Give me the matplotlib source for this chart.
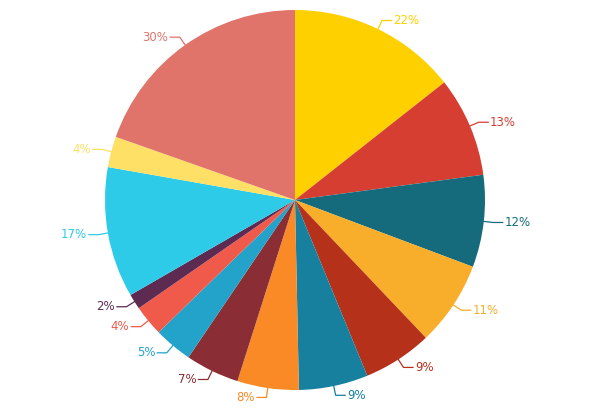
import matplotlib
matplotlib.use("Agg")
import matplotlib.pyplot as plt
import numpy as np

values = [22, 13, 12, 11, 9, 9, 8, 7, 5, 4, 2, 17, 4, 30]
labels = ["22%", "13%", "12%", "11%", "9%", "9%", "8%", "7%", "5%", "4%", "2%", "17%", "4%", "30%"]
colors = ["#FFD000", "#D63E31", "#156B7C", "#F9AE2B", "#B5311A", "#16809E", "#F98A25",
          "#8A2D34", "#23A3C9", "#F05A4A", "#5D2A52", "#2ECBE8", "#FFE066", "#E0746B"]

fig = plt.figure(figsize=(6.16, 4.11), dpi=100)
W, H = 616, 411
cx, cy, r = 295, 200, 190
ax = fig.add_axes([(cx - r) / W, (H - cy - r) / H, 2 * r / W, 2 * r / H])
wedges, _ = ax.pie(values, colors=colors, startangle=90, counterclock=False,
                   wedgeprops=dict(linewidth=0))
ax.set_xlim(-1, 1); ax.set_ylim(-1, 1)
ax.set_aspect("equal")

for w, lab, c in zip(wedges, labels, colors):
    ang = np.deg2rad((w.theta1 + w.theta2) / 2)
    x, y = np.cos(ang), np.sin(ang)
    x1, y1 = 1.0 * x, 1.0 * y
    x2, y2 = 1.05 * x, 1.05 * y
    s = 1 if x >= 0 else -1
    x3 = x2 + s * 0.05
    ax.plot([x1, x2, x3], [y1, y2, y2], color=c, lw=0.9, clip_on=False)
    ax.text(x3 + s * 0.01, y2, lab, color=c, fontsize=8.5, family="DejaVu Sans",
            ha="left" if s > 0 else "right", va="center")

fig.savefig("out.png", dpi=100, facecolor="white")
